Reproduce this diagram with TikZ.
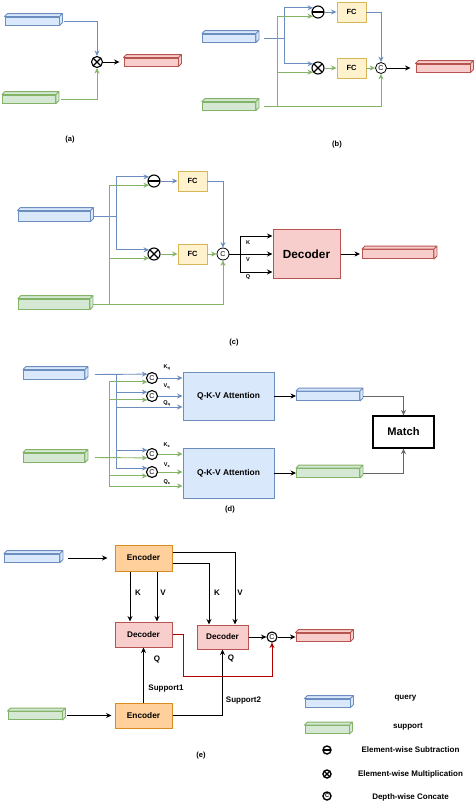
\documentclass[tikz,border=0pt]{standalone}
\usepackage{fontspec}
\setmainfont{Liberation Sans}
\usetikzlibrary{arrows.meta}

\definecolor{qline}{HTML}{6C8EBF}
\definecolor{qfill}{HTML}{DAE8FC}
\definecolor{sline}{HTML}{82B366}
\definecolor{sfill}{HTML}{D5E8D4}
\definecolor{rline}{HTML}{B85450}
\definecolor{rfill}{HTML}{F8CECC}
\definecolor{fcline}{HTML}{D6B656}
\definecolor{fcfill}{HTML}{FFF2CC}
\definecolor{encline}{HTML}{D98C1E}
\definecolor{encfill}{HTML}{FFD09B}
\definecolor{eline}{HTML}{B20000}
\definecolor{gline}{HTML}{666666}

\newcommand{\bsz}[1]{\fontsize{#1}{#1}\selectfont\bfseries}
% 立体条的顶面和侧面
\newcommand{\barside}[2]{%
  \filldraw[draw=#2line, fill=#2fill, line width=0.9pt, line join=round]
    (#1.north west) -- ([xshift=3pt,yshift=3pt]#1.north west) -- ([xshift=3pt,yshift=3pt]#1.north east) -- (#1.north east) -- cycle
    (#1.north east) -- ([xshift=3pt,yshift=3pt]#1.north east) -- ([xshift=3pt,yshift=3pt]#1.south east) -- (#1.south east) -- cycle;}

\tikzset{
  bar/.style={draw=#1line, fill=#1fill, line width=0.9pt, minimum width=54pt, minimum height=8pt, inner sep=0pt},
  opc/.style={circle, draw, line width=1.1pt, minimum size=12pt, inner sep=0pt},
  mulop/.style={opc, path picture={\draw[line width=1.1pt] (path picture bounding box.north west) -- (path picture bounding box.south east) (path picture bounding box.north east) -- (path picture bounding box.south west);}},
  subop/.style={opc, path picture={\draw[line width=1.1pt] (path picture bounding box.west) -- (path picture bounding box.east);}},
  catop/.style={opc, line width=0.8pt, font=\fontsize{7}{7}\selectfont},
  fc/.style={draw=fcline, fill=fcfill, line width=0.9pt, minimum width=29pt, minimum height=20pt, inner sep=0pt, font=\bsz{7.5}},
  decbox/.style={draw=rline, fill=rfill, line width=1pt, minimum width=67pt, minimum height=49pt, inner sep=0pt, font=\bsz{11.8}},
  att/.style={draw=qline, fill=qfill, line width=0.9pt, minimum width=91pt, minimum height=48pt, inner sep=0pt, font=\bsz{8.4}},
  matchbox/.style={draw, fill=white, line width=1.2pt, minimum width=61pt, minimum height=32pt, inner sep=0pt, font=\bsz{11.1}},
  enc/.style={draw=encline, fill=encfill, line width=1pt, minimum width=57pt, minimum height=26pt, inner sep=0pt, font=\bsz{8.3}},
  dec/.style={draw=rline, fill=rfill, line width=1pt, minimum width=57pt, minimum height=25pt, inner sep=0pt, font=\bsz{8.2}},
  panlab/.style={font=\bsz{7.5}, inner sep=0pt},
  lab/.style={font=\bsz{#1}, inner sep=0pt},
  leg/.style={font=\bsz{8}, inner sep=0pt},
}

\begin{document}
\begin{tikzpicture}[x=1pt, y=-1pt, line width=0.9pt, >={Stealth[length=5.5pt,width=5pt]}]
\useasboundingbox (0,0) rectangle (474,804);

% (a)
\node[bar=q] (qa) at (32,21) {};
\node[bar=s, minimum width=53pt] (sa) at (29,99) {};
\node[mulop, minimum size=11pt] (mula) at (97,62) {};
\node[bar=r] (ra) at (151,62) {};
\draw[qline,->] ([xshift=5pt]qa.east) -| (mula);
\draw[sline,->] ([xshift=5pt]sa.east) -| (mula);
\draw[->] (mula) -- ([xshift=-4pt]ra.west);
\node[panlab] (capa) at (70,140) {(a)};

% (b)
\node[bar=q, minimum width=53pt] (qb) at (229,38) {};
\node[bar=s, minimum width=53pt] (sb) at (229,106) {};
\node[subop] (subb) at (318,12) {};
\node[mulop] (mulb) at (318,68) {};
\node[fc] (fcb1) at (351.5,12) {FC};
\node[fc] (fcb2) at (351.5,68) {FC};
\node[catop, minimum size=11pt] (catb) at (381,68) {C};
\node[bar=r] (rb) at (443,68) {};
\coordinate (jqb) at (284,38);
\coordinate (jsb) at (277,106);
\draw[qline] ([xshift=8pt]qb.east) -- (jqb);
\draw[qline,->] (jqb) |- (subb.140);
\draw[qline,->] (jqb) |- (mulb.140);
\draw[sline,->] ([xshift=8pt]sb.east) -| (catb); % 支持特征直连
\draw[sline,->] (jsb) |- (subb.220);
\draw[sline,->] (jsb) |- (mulb.220);
\draw[qline,->] (subb) -- (fcb1);
\draw[sline,->] (mulb) -- (fcb2);
\draw[qline,->] (fcb1) -| (catb);
\draw[sline,->] (fcb2) -- (catb);
\draw[->] (catb) -- ([xshift=-5pt]rb.west);
\node[panlab] (capb) at (337,145) {(b)};

% (c)
\node[bar=q, minimum width=72pt, minimum height=10pt] (qc) at (54,216) {};
\node[bar=s, minimum width=71pt, minimum height=10pt] (sc) at (54,304) {};
\node[subop] (subc) at (154,181) {};
\node[mulop] (mulc) at (154,254) {};
\node[fc] (fcc1) at (192.5,181) {FC};
\node[fc] (fcc2) at (192.5,254) {FC};
\node[catop] (catc) at (223,254) {C};
\node[decbox] (decc) at (306.5,254) {Decoder};
\node[bar=r, minimum width=71pt, minimum height=9pt] (rc) at (398,254) {};
\coordinate (jqc) at (116,216);
\coordinate (jsc) at (109,304);
\coordinate (kvq) at (240,254);
\draw[qline] ([xshift=3pt]qc.east) -- (jqc);
\draw[qline,->] (jqc) |- (subc.140);
\draw[qline,->] (jqc) |- (mulc.140);
\draw[sline,->] ([xshift=3pt]sc.east) -| (catc);
\draw[sline,->] (jsc) |- (subc.220);
\draw[sline,->] (jsc) |- (mulc.220);
\draw[qline,->] (subc) -- (fcc1);
\draw[sline,->] (mulc) -- (fcc2);
\draw[qline,->] (fcc1) -| (catc);
\draw[sline,->] (fcc2) -- (catc);
\draw (catc) -- (kvq);
\draw[->] (kvq) |- ([yshift=18pt]decc.west);
\draw[->] (kvq) -- (decc.west);
\draw[->] (kvq) |- ([yshift=-18pt]decc.west);
\node[lab=5.5] (kc) at (248,243) {K};
\node[lab=5.5] (vc) at (248,260) {V};
\node[lab=5.5] (qcl) at (248,277) {Q};
\draw[->] (decc) -- ([xshift=-2pt]rc.west);
\node[panlab] (capc) at (234,343) {(c)};

% (d)
\node[bar=q, minimum width=61pt, minimum height=9pt] (qd) at (54,374.5) {};
\node[bar=s, minimum width=61pt, minimum height=9pt] (sd) at (54,457.5) {};
\foreach \n/\y in {kq/378, vq/396, ks/454, vs/472}
  \node[catop, minimum size=11pt, line width=1.1pt] (\n) at (152,\y) {C};
\node[att] (att1) at (228.5,396) {Q-K-V Attention};
\node[att, minimum height=50pt] (att2) at (228.5,473) {Q-K-V Attention};
\node[bar=q, minimum width=63pt, minimum height=9pt] (qo) at (328,396) {};
\node[bar=s, minimum width=63pt, minimum height=9pt] (so) at (328,473) {};
\node[matchbox] (match) at (403.5,432) {Match};
\coordinate (jqd) at (116,374.5);
\coordinate (qqd) at (116,407);
\coordinate (qsd) at (109,486);
\draw[qline,->] ([xshift=10pt]qd.east) -- (kq.140);
\draw[qline] (jqd) -- (jqd |- vs.140);
\foreach \n in {vq,ks,vs}
  \draw[qline,->] (jqd) |- (\n.140);
\draw[qline,->] (qqd) -- (qqd -| att1.west);
\draw[sline,->] ([xshift=10pt]sd.east) -- (ks.220);
\draw[sline] (qsd |- kq.220) -- (qsd);
\foreach \n in {kq,vq,vs}
  \draw[sline,->] (qsd) |- (\n.220);
\draw[sline,->] (qsd) -- (qsd -| att2.west);
\foreach \n in {kq,vq}
  \draw[qline,->] (\n) -- (\n -| att1.west);
\foreach \n in {ks,vs}
  \draw[sline,->] (\n) -- (\n -| att2.west);
\node[lab=5.5] (lkq) at (167,368) {K\textsubscript{q}};
\node[lab=5.5] (lvq) at (167,387) {V\textsubscript{q}};
\node[lab=5.5] (lqq) at (167,403) {Q\textsubscript{q}};
\node[lab=5.5] (lks) at (167,445) {K\textsubscript{s}};
\node[lab=5.5] (lvs) at (167,465) {V\textsubscript{s}};
\node[lab=5.5] (lqs) at (167,482) {Q\textsubscript{s}};
\draw[->] (att1) -- (qo.west);
\draw[->] (att2) -- (so.west);
\draw[gline,->] ([xshift=3pt]qo.east) -| (match);
\draw[gline,->] ([xshift=3pt]so.east) -| (match);
\node[panlab] (capd) at (230,510) {(d)};

% (e)
\node[bar=q, minimum width=55pt] (qe) at (32,558) {};
\node[bar=s] (se) at (35,715.5) {};
\node[enc] (enc1) at (143.5,558) {Encoder};
\node[enc, minimum height=25pt] (enc2) at (143.5,715.5) {Encoder};
\node[dec] (dec1) at (143.5,634.5) {Decoder};
\node[dec, minimum width=51pt, minimum height=24pt] (dec2) at (222.5,637) {Decoder};
\node[catop, minimum size=10pt, line width=1.1pt] (cate) at (272,637) {C};
\node[bar=r] (re) at (323,637) {};
\coordinate (bend) at (183,676);
\draw[->] ([xshift=8pt]qe.east) -- ([xshift=-7pt]enc1.west);
\draw[->] ([xshift=5pt]se.east) -- ([xshift=-3pt]enc2.west);
\draw[->] ([xshift=-13.5pt]enc1.south) -- ([xshift=-13.5pt]dec1.north);
\draw[->] ([xshift=13.5pt]enc1.south) -- ([xshift=13.5pt]dec1.north);
\draw[->] ([yshift=-5pt]enc1.east) -| ([xshift=-13.5pt]dec2.north);
\draw[->] ([yshift=6pt]enc1.east) -| ([xshift=12.5pt]dec2.north);
\draw[->] (enc2) -- (dec1); % Support1
\draw[->] (enc2) -| (dec2); % Support2
\draw[->] (dec2) -- (cate);
\draw[->] (cate) -- (re.west);
\draw[eline,->] (dec1.east) -| (bend) -| (cate);
\node[lab=8] (ke1) at (138,593) {K};
\node[lab=8] (ve1) at (163,593) {V};
\node[lab=8] (ke2) at (217,593) {K};
\node[lab=8] (ve2) at (240,593) {V};
\node[lab=8] (qe1) at (157,659) {Q};
\node[lab=8] (qe2) at (231,658) {Q};
\node[lab=8] (sp1) at (166,689) {Support1};
\node[lab=8] (sp2) at (243.5,701) {Support2};
\node[panlab] (cape) at (201,756) {(e)};

% 图例
\node[bar=q, minimum width=45pt] (lq) at (327.5,703) {};
\node[bar=s, minimum width=44pt] (ls) at (327,729.5) {};
\node[subop, minimum size=8pt, line width=1.4pt] (lsub) at (327,750) {};
\node[mulop, minimum size=8pt, line width=1.4pt] (lmul) at (327,774) {};
\node[opc, minimum size=8pt, line width=1.4pt, font=\bsz{5.5}] (lcat) at (327,796) {C};
\node[leg] (tq) at (405.5,698) {query};
\node[leg] (ts) at (408,727) {support};
\foreach \y/\t in {750/Element-wise Subtraction, 774/Element-wise Multiplication, 797/Depth-wise Concate}
  \node[leg] (t\y) at (410.5,\y) {\t};

% 立体条
\foreach \n/\col in {qa/q,sa/s,ra/r,qb/q,sb/s,rb/r,qc/q,sc/s,rc/r,qd/q,sd/s,qo/q,so/s,qe/q,se/s,re/r,lq/q,ls/s}
  \barside{\n}{\col};
\end{tikzpicture}
\end{document}
